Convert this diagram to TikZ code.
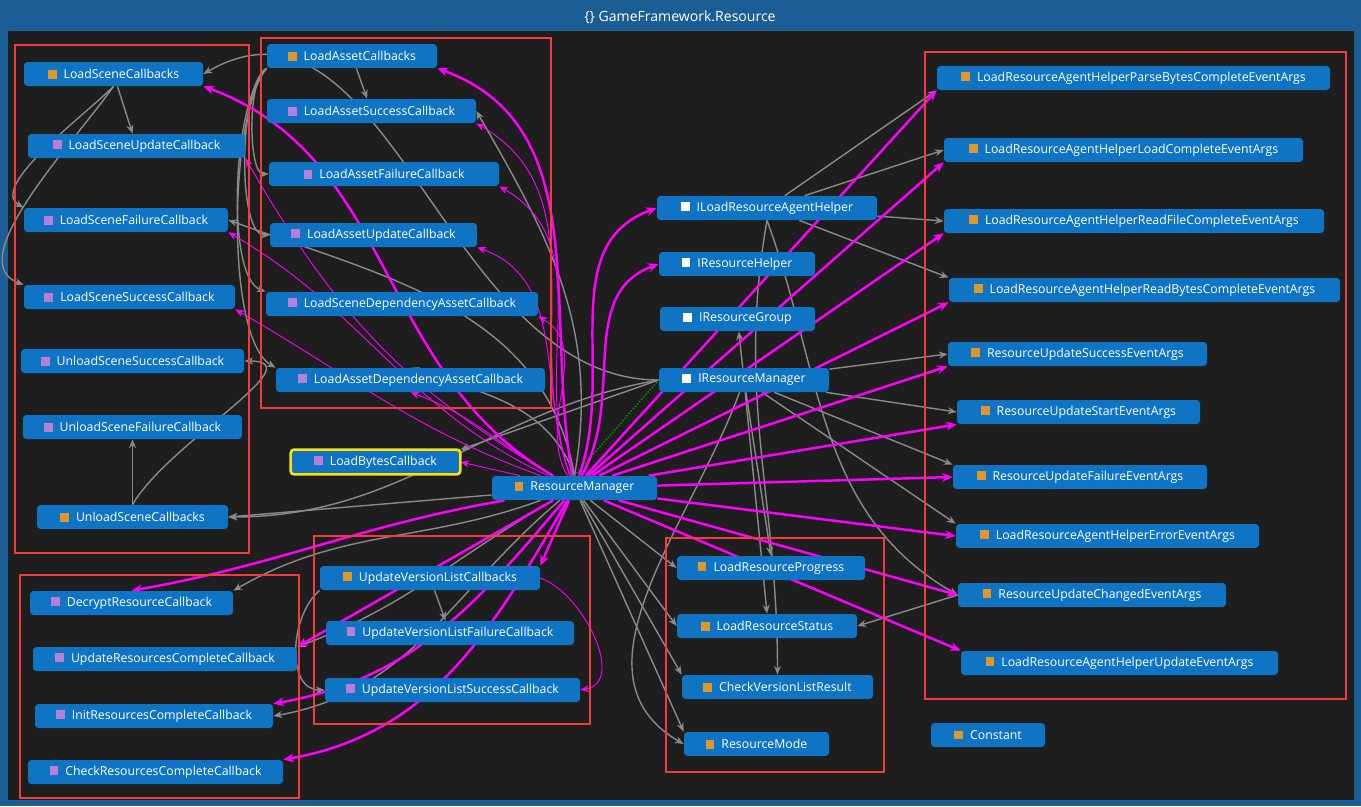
\documentclass[tikz,border=0pt]{standalone}
\usepackage{fontspec}
\setmainfont{Open Sans}
\usetikzlibrary{arrows.meta}
\definecolor{frame}{HTML}{1B5E96}
\definecolor{bg}{HTML}{1E1E1E}
\definecolor{nodeblue}{HTML}{0F74C4}
\definecolor{redbox}{HTML}{F03C3C}
\definecolor{mag}{HTML}{FF00FF}
\definecolor{edgegray}{HTML}{8A8A8A}
\definecolor{clsicon}{HTML}{E0962A}
\definecolor{delicon}{HTML}{B77FD6}
\pgfdeclarelayer{back}
\pgfsetlayers{back,main}
\begin{document}
\begin{tikzpicture}[x=0.02cm,y=-0.02cm,
  nd/.style={fill=nodeblue,rounded corners=2pt,text=white,font=\fontsize{7}{8}\selectfont,minimum height=0.48cm,inner sep=0pt},
  grp/.style={draw=redbox,line width=1.2pt},
  ge/.style={draw=edgegray,line width=0.8pt,-{Stealth[length=5pt,width=4pt]}},
  me/.style={draw=mag,line width=1.4pt,-{Stealth[length=6pt,width=5pt]}},
  mt/.style={draw=mag,line width=0.5pt,-{Stealth[length=5pt,width=4pt]}}]
\useasboundingbox (0,0) rectangle (1361,806);
\newcommand{\nn}[6]{\node[nd,minimum width={(#3-#2)*0.02cm}] (#1) at ({(#2+#3)/2},#4) {\textcolor{#6}{\rule{5pt}{5pt}}\hspace{4pt}#5};}
\nn{lsc}{24}{203}{74}{LoadSceneCallbacks}{clsicon}
\nn{lsu}{28}{245}{146}{LoadSceneUpdateCallback}{delicon}
\nn{lsf}{24}{228}{220}{LoadSceneFailureCallback}{delicon}
\nn{lss}{24}{235}{297}{LoadSceneSuccessCallback}{delicon}
\nn{uss}{21}{244}{361}{UnloadSceneSuccessCallback}{delicon}
\nn{usf}{23}{242}{427}{UnloadSceneFailureCallback}{delicon}
\nn{usc}{37}{228}{517}{UnloadSceneCallbacks}{clsicon}
\nn{lac}{267}{437}{56}{LoadAssetCallbacks}{clsicon}
\nn{las}{267}{476}{111}{LoadAssetSuccessCallback}{delicon}
\nn{laf}{269}{499}{174}{LoadAssetFailureCallback}{delicon}
\nn{lau}{270}{477}{235}{LoadAssetUpdateCallback}{delicon}
\nn{lsd}{266}{538}{304}{LoadSceneDependencyAssetCallback}{delicon}
\nn{lad}{276}{545}{380}{LoadAssetDependencyAssetCallback}{delicon}
\nn{lbc}{291}{460}{462}{LoadBytesCallback}{delicon}
\draw[yellow!85!orange,line width=1.5pt,rounded corners=2pt] (lbc.south west) rectangle (lbc.north east);
\nn{rm}{492}{657}{488}{ResourceManager}{clsicon}
\nn{ilr}{657}{877}{208}{ILoadResourceAgentHelper}{white}
\nn{irh}{659}{815}{264}{IResourceHelper}{white}
\nn{irg}{660}{815}{319}{IResourceGroup}{white}
\nn{irm}{659}{829}{380}{IResourceManager}{white}
\nn{e1}{937}{1330}{78}{LoadResourceAgentHelperParseBytesCompleteEventArgs}{clsicon}
\nn{e2}{944}{1303}{150}{LoadResourceAgentHelperLoadCompleteEventArgs}{clsicon}
\nn{e3}{944}{1324}{221}{LoadResourceAgentHelperReadFileCompleteEventArgs}{clsicon}
\nn{e4}{949}{1340}{290}{LoadResourceAgentHelperReadBytesCompleteEventArgs}{clsicon}
\nn{e5}{948}{1207}{354}{ResourceUpdateSuccessEventArgs}{clsicon}
\nn{e6}{957}{1200}{412}{ResourceUpdateStartEventArgs}{clsicon}
\nn{e7}{953}{1207}{477}{ResourceUpdateFailureEventArgs}{clsicon}
\nn{e8}{956}{1259}{536}{LoadResourceAgentHelperErrorEventArgs}{clsicon}
\nn{e9}{958}{1226}{595}{ResourceUpdateChangedEventArgs}{clsicon}
\nn{e10}{961}{1278}{663}{LoadResourceAgentHelperUpdateEventArgs}{clsicon}
\nn{const}{931}{1045}{735}{Constant}{clsicon}
\nn{uvc}{320}{540}{578}{UpdateVersionListCallbacks}{clsicon}
\nn{uvf}{326}{574}{633}{UpdateVersionListFailureCallback}{delicon}
\nn{uvs}{325}{580}{690}{UpdateVersionListSuccessCallback}{delicon}
\nn{drc}{30}{233}{603}{DecryptResourceCallback}{delicon}
\nn{urc}{33}{297}{659}{UpdateResourcesCompleteCallback}{delicon}
\nn{irc}{35}{273}{716}{InitResourcesCompleteCallback}{delicon}
\nn{crc}{28}{283}{772}{CheckResourcesCompleteCallback}{delicon}
\nn{lrp}{677}{865}{568}{LoadResourceProgress}{clsicon}
\nn{lrs}{677}{857}{626}{LoadResourceStatus}{clsicon}
\nn{cvr}{682}{873}{687}{CheckVersionListResult}{clsicon}
\nn{rmo}{684}{829}{744}{ResourceMode}{clsicon}
\draw[grp] (15,45) rectangle (249,553);
\draw[grp] (261,38) rectangle (551,408);
\draw[grp] (925,52) rectangle (1346,699);
\draw[grp] (314,536) rectangle (590,724);
\draw[grp] (20,575) rectangle (299,798);
\draw[grp] (666,538) rectangle (884,772);
\begin{pgfonlayer}{back}
\fill[frame] (0,0) rectangle (1361,806);
\fill[bg] (8,31) rectangle (1354,800);
\node[text=white,font=\fontsize{8}{9}\selectfont] (title) at (680,17) {\{\} GameFramework.Resource};
\draw[ge] (lsc) -- (lsu);
\draw[ge] (lsc.south) to[out=225,in=150,looseness=0.7] (lsf.north west);
\draw[ge] (lsc.south) to[out=235,in=160,looseness=0.8] (lss.north west);
\draw[ge] (lac) -- (las);
\draw[ge] (lac.south west) to[out=200,in=180,looseness=0.5] (laf.west);
\draw[ge] (lac.south west) to[out=210,in=180,looseness=0.5] (lau.west);
\draw[ge] (lac.south west) to[out=220,in=160,looseness=0.5] (lsd.north west);
\draw[ge] (lac.south west) to[out=230,in=150,looseness=0.5] (lad.north west);
\draw[ge] (usc) -- (usf);
\draw[ge] (usc.north) to[out=60,in=0] (uss.east);
\draw[ge] (uvc) -- (uvf);
\draw[ge] (uvc.south west) to[out=220,in=180] (uvs.west);
\draw[ge] (ilr) -- (e1.south west);
\draw[ge] (ilr) -- (e2.west);
\draw[ge] (ilr) -- (e3.west);
\draw[ge] (ilr) -- (e4.north west);
\draw[ge] (irm) -- (irg);
\draw[ge] (irm) -- (e5.west);
\draw[ge] (irm) -- (e6.west);
\draw[ge] (irm) -- (e7.north west);
\draw[ge] (irm) -- (e8.north west);
\draw[ge] (irm) -- (lrp.north);
\draw[ge] (irm) -- (lrs.north);
\draw[ge] (irm) to[out=250,in=150] (rmo.west);
\draw[ge] (irm.west) to[out=190,in=0] (usc.east);
\draw[ge] (irm.west) -- (lbc.north east);
\draw[ge] (irm.west) to[out=180,in=30] (lsc.east);
\draw[ge] (ilr.south) to[out=260,in=90] (cvr.north);
\draw[ge] (ilr.south) to[out=290,in=150] (e9.west);
\draw[ge] (rm) -- (lrp.west);
\draw[ge] (rm) -- (lrs.west);
\draw[ge] (rm) -- (cvr.north west);
\draw[ge] (rm) -- (rmo.north west);
\draw[ge] (rm) -- (usc.east);
\draw[ge] (rm) to[out=200,in=30] (drc.north east);
\draw[ge] (rm) to[out=210,in=20] (urc.north east);
\draw[ge] (rm) to[out=220,in=10] (irc.east);
\draw[ge] (rm.north) to[out=100,in=340] (lsf.east);
\draw[ge] (rm.north) to[out=110,in=340] (lad.north);
\draw[ge] (rm.north) to[out=80,in=300] (las.east);
\draw[ge] (e9.west) -- (lrs.east);
\draw[densely dotted,green!60!black,line width=0.8pt] (rm.north) -- (irm.west);
\draw[mt] (rm) to[out=150,in=300] (lsu.south east);
\draw[mt] (rm) to[out=155,in=330] (lsf.south east);
\draw[mt] (rm) to[out=160,in=330] (lss.south east);
\draw[mt] (rm) to[out=110,in=330] (las.south east);
\draw[mt] (rm) to[out=110,in=330] (laf.south east);
\draw[mt] (rm) to[out=110,in=340] (lau.south east);
\draw[mt] (rm) to[out=120,in=330] (lsd.south east);
\draw[mt] (rm) to[out=150,in=340] (lad.south);
\draw[mt] (rm) -- (lbc.east);
\draw[mt] (uvc.east) to[out=340,in=10] (uvs.east);
\draw[me] (rm) to[out=150,in=340] (lsc.south east);
\draw[me] (rm) to[out=100,in=340] (lac.south east);
\draw[me] (rm) to[out=70,in=200] (ilr.west);
\draw[me] (rm) to[out=60,in=200] (irh.west);
\draw[me] (rm) -- (e1.south west);
\draw[me] (rm) -- (e2.south west);
\draw[me] (rm) -- (e3.south west);
\draw[me] (rm) -- (e4.south west);
\draw[me] (rm) -- (e5.south west);
\draw[me] (rm) -- (e6.south west);
\draw[me] (rm) -- (e7.west);
\draw[me] (rm) -- (e8.west);
\draw[me] (rm) -- (e9.west);
\draw[me] (rm) -- (e10.north west);
\draw[me] (rm) -- (uvc.north east);
\draw[me] (rm) -- (urc.north east);
\draw[me] (rm) to[out=230,in=10] (irc.north east);
\draw[me] (rm) to[out=240,in=10] (crc.north east);
\draw[me] (rm) to[out=190,in=10] (drc.north);
\end{pgfonlayer}
\end{tikzpicture}
\end{document}
